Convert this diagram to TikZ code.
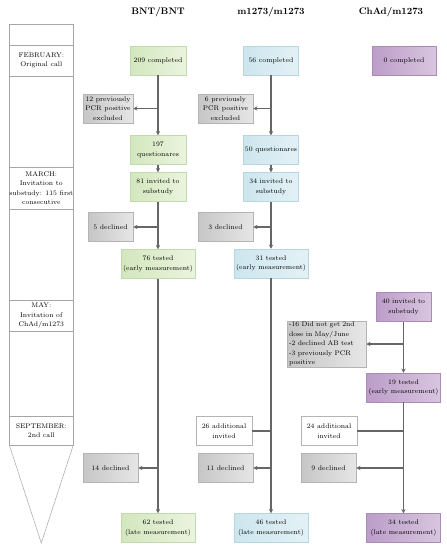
\documentclass[tikz,border=0pt]{standalone}
\usetikzlibrary{arrows.meta,calc}
\definecolor{gL}{HTML}{D3E7BE}\definecolor{gR}{HTML}{EAF4DE}\definecolor{gB}{HTML}{C3DAAE}
\definecolor{bL}{HTML}{CDE6EE}\definecolor{bR}{HTML}{E3F1F6}\definecolor{bB}{HTML}{B6D6E0}
\definecolor{pL}{HTML}{BC9DC9}\definecolor{pR}{HTML}{D8C5DF}\definecolor{pB}{HTML}{A98BB6}
\definecolor{kL}{HTML}{C6C6C6}\definecolor{kR}{HTML}{E6E6E6}\definecolor{kB}{HTML}{B4B4B4}
\definecolor{lineC}{HTML}{666666}
\tikzset{
  txt/.style={font=\fontsize{6.8}{9.4}\selectfont, align=center, inner sep=1pt},
  box/.style={txt, draw, line width=0.5pt, minimum height=29pt, minimum width=#1},
  gbox/.style={box=#1, draw=gB, left color=gL, right color=gR},
  bbox/.style={box=#1, draw=bB, left color=bL, right color=bR},
  pbox/.style={box=#1, draw=pB, left color=pL, right color=pR},
  kbox/.style={box=#1, draw=kB, left color=kL, right color=kR},
  wbox/.style={box=#1, draw=kB, fill=white},
  hdr/.style={font=\bfseries\fontsize{9.5}{11}\selectfont, inner sep=0pt},
  conn/.style={draw=lineC, line width=1.1pt},
  arr/.style={conn, -{Stealth[length=4.2pt,width=4.2pt]}},
  tl/.style={draw=gray!70, line width=0.5pt},
  tltxt/.style={font=\fontsize{6.8}{9.4}\selectfont, align=center, inner sep=0pt},
}
\begin{document}
\begin{tikzpicture}[x=1pt,y=-1pt]
\useasboundingbox (0,0) rectangle (447,550);
% headers
\node[hdr] (h1) at (158,12) {BNT/BNT};
\node[hdr] (h2) at (271,12) {m1273/m1273};
\node[hdr] (h3) at (391,12) {ChAd/m1273};
% timeline
\draw[tl] (9.3,24) rectangle (73.3,445);
\foreach \yy in {45,76,167,209,300,331,416} \draw[tl] (9.3,\yy) -- (73.3,\yy);
\draw[tl] (9.3,445) -- (41.3,543) -- (73.3,445);
\node[tltxt] (tfeb) at (41.3,60.5) {FEBRUARY:\\Original call};
\node[tltxt] (tmar) at (41.3,188) {MARCH:\\Invitation to\\substudy: 115 first\\consecutive};
\node[tltxt] (tmay) at (41.3,315.5) {MAY:\\Invitation of\\ChAd/m1273};
\node[tltxt] (tsep) at (41.3,430.5) {SEPTEMBER:\\2nd call};
% BNT column
\node[gbox=56pt] (a1) at (158,60.5) {209 completed};
\node[kbox=50pt] (ax) at (108,108.5) {12 previously\\PCR positive\\excluded};
\node[gbox=56pt] (a2) at (158,150) {197\\questionares};
\node[gbox=56pt] (a3) at (158,187) {81 invited to\\substudy};
\node[kbox=45pt] (ad1) at (110.5,227) {5 declined};
\node[gbox=74pt] (a4) at (158,264) {76 tested\\(early measurement)};
\node[kbox=55pt] (ad2) at (110.5,468) {14 declined};
\node[gbox=74pt] (a5) at (158,528) {62 tested\\(late measurement)};
% m1273 column
\node[bbox=55pt] (b1) at (271,60.5) {56 completed};
\node[kbox=55pt] (bx) at (225.5,108.5) {6 previously\\PCR positive\\excluded};
\node[bbox=55pt] (b2) at (271,150) {50 questionares};
\node[bbox=55pt] (b3) at (271,187) {34 invited to\\substudy};
\node[kbox=55pt] (bd1) at (225.5,227) {3 declined};
\node[bbox=74pt] (b4) at (271,263.5) {31 tested\\(early measurement)};
\node[wbox=56pt] (bw) at (224,431) {26 additional\\invited};
\node[kbox=55pt] (bd2) at (225.5,468) {11 declined};
\node[bbox=74pt] (b5) at (271,528) {46 tested\\(late measurement)};
% ChAd column
\node[pbox=64pt] (c0) at (404,60.5) {0 completed};
\node[pbox=55pt] (c1) at (403.5,307) {40 invited to\\substudy};
\node[kbox=79pt, align=left, text width=75pt] (cx) at (326.5,344) {-16 Did not get 2nd\\dose in May/June\\-2 declined AB test\\-3 previously PCR\\positive};
\node[pbox=74pt] (c2) at (403.5,387.5) {19 tested\\(early measurement)};
\node[wbox=56pt] (cw) at (329,431) {24 additional\\invited};
\node[kbox=55pt] (cd2) at (328.5,468) {9 declined};
\node[pbox=74pt] (c3) at (403.5,528) {34 tested\\(late measurement)};
% connectors BNT
\draw[arr] (a1) -- (a2);
\draw[arr] (ax.east -| a1) -- (ax.east);
\draw[arr] (a2) -- (a3);
\draw[arr] (a3) -- (a4);
\draw[arr] (ad1.east -| a3) -- (ad1.east);
\draw[arr] (a4) -- (a5);
\draw[arr] (ad2.east -| a4) -- (ad2.east);
% connectors m1273
\draw[arr] (b1) -- (b2);
\draw[arr] (bx.east -| b1) -- (bx.east);
\draw[arr] (b2) -- (b3);
\draw[arr] (b3) -- (b4);
\draw[arr] (bd1.east -| b3) -- (bd1.east);
\draw[arr] (b4) -- (b5);
\draw[conn] (bw.east) -- (bw.east -| b4);
\draw[arr] (bd2.east -| b4) -- (bd2.east);
% connectors ChAd
\draw[arr] (c1) -- (c2);
\draw[arr] (cx.east -| c1) -- (cx.east);
\draw[arr] (c2) -- (c3);
\draw[conn] (cw.east) -- (cw.east -| c2);
\draw[arr] (cd2.east -| c2) -- (cd2.east);
\end{tikzpicture}
\end{document}
